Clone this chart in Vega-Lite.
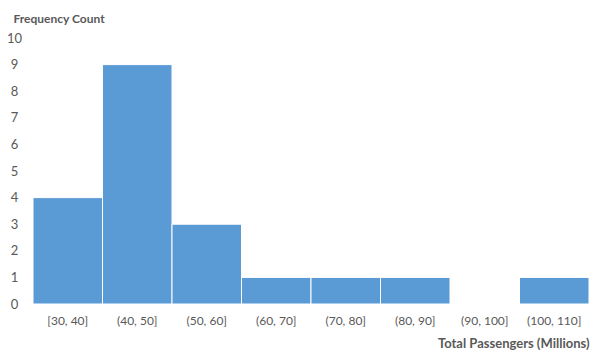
{
  "$schema": "https://vega.github.io/schema/vega-lite/v6.json",
  "width": 556,
  "height": 266,
  "autosize": "none",
  "padding": {"left": 33, "top": 38, "right": 11, "bottom": 57},
  "background": "white",
  "data": {"values": [
    {"bin": "[30, 40]", "count": 4},
    {"bin": "(40, 50]", "count": 9},
    {"bin": "(50, 60]", "count": 3},
    {"bin": "(60, 70]", "count": 1},
    {"bin": "(70, 80]", "count": 1},
    {"bin": "(80, 90]", "count": 1},
    {"bin": "(90, 100]", "count": 0},
    {"bin": "(100, 110]", "count": 1}
  ]},
  "mark": {"type": "bar", "color": "#5B9BD5", "stroke": "white", "strokeWidth": 1},
  "encoding": {
    "x": {
      "field": "bin", "type": "nominal", "sort": null,
      "scale": {"paddingInner": 0, "paddingOuter": 0},
      "axis": {
        "title": "Total Passengers (Millions)",
        "labelAngle": 0, "domain": false, "ticks": false, "tickSize": 0,
        "labelPadding": 11, "labelFont": "Lato", "labelFontSize": 12, "labelColor": "#595959",
        "titleFont": "Lato", "titleFontSize": 13, "titleFontWeight": "bold", "titleColor": "#595959",
        "titleAnchor": "end", "titleAlign": "right", "titleX": 556, "titleY": 39, "titleBaseline": "middle"
      }
    },
    "y": {
      "field": "count", "type": "quantitative",
      "scale": {"domain": [0, 10], "nice": false},
      "axis": {
        "title": "Frequency Count", "values": [0,1,2,3,4,5,6,7,8,9,10],
        "domain": false, "ticks": false, "tickSize": 0, "grid": false,
        "labelAlign": "center", "labelPadding": 19, "labelFont": "Lato", "labelFontSize": 13, "labelColor": "#595959",
        "titleFont": "Lato", "titleFontSize": 12, "titleFontWeight": "bold", "titleColor": "#595959",
        "titleAngle": 0, "titleAlign": "left", "titleBaseline": "middle", "titleX": -20, "titleY": -20
      }
    }
  },
  "config": {"view": {"stroke": null}}
}
